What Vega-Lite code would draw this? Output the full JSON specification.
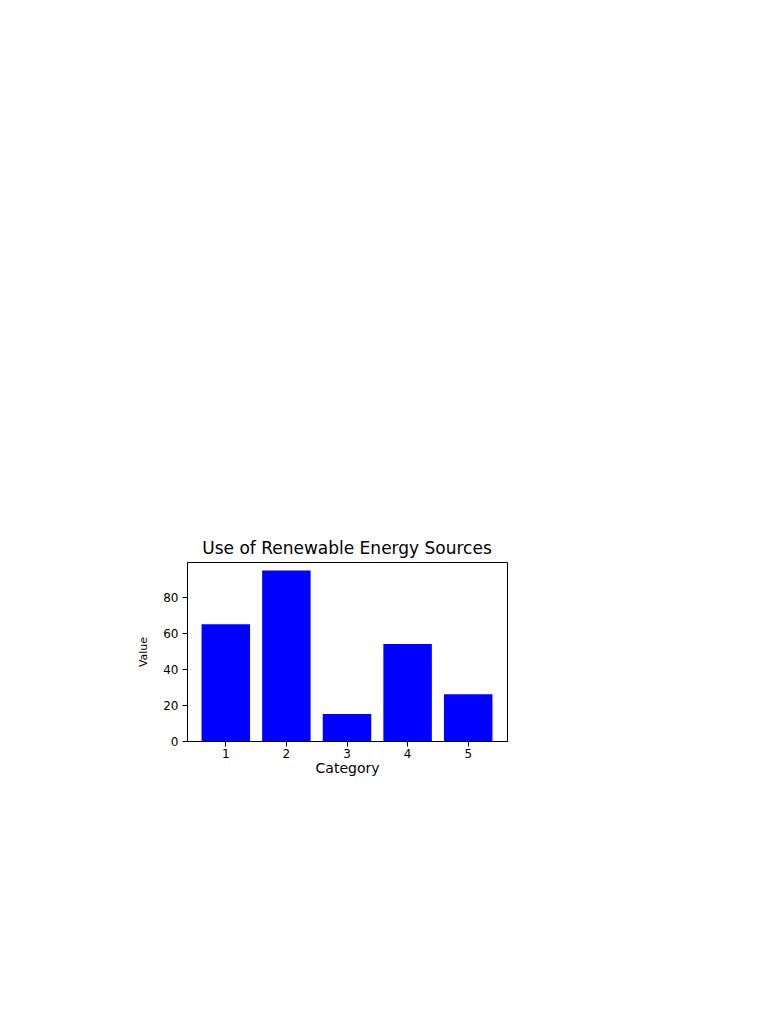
{
  "$schema": "https://vega.github.io/schema/vega-lite/v6.json",
  "autosize": "none",
  "padding": {"left": 187, "top": 562, "right": 261, "bottom": 283},
  "width": 320,
  "height": 179,
  "background": "white",
  "title": {
    "text": "Use of Renewable Energy Sources",
    "font": "DejaVu Sans",
    "fontSize": 17,
    "fontWeight": "normal",
    "color": "black",
    "offset": 4
  },
  "data": {
    "values": [
      {"Category": "1", "Value": 65},
      {"Category": "2", "Value": 95},
      {"Category": "3", "Value": 15},
      {"Category": "4", "Value": 54},
      {"Category": "5", "Value": 26}
    ]
  },
  "mark": {"type": "bar", "color": "#0000ff"},
  "encoding": {
    "x": {
      "field": "Category",
      "type": "ordinal",
      "title": "Category",
      "scale": {"paddingInner": 0.2, "paddingOuter": 0.24},
      "axis": {"labelAngle": 0, "titleFontSize": 14, "titlePadding": 2}
    },
    "y": {
      "field": "Value",
      "type": "quantitative",
      "title": "Value",
      "scale": {"domain": [0, 99.75], "nice": false},
      "axis": {"values": [0, 20, 40, 60, 80], "titleFontSize": 11, "titlePadding": 14, "labelPadding": 4}
    }
  },
  "config": {
    "view": {"stroke": "black", "strokeWidth": 1},
    "axis": {
      "grid": false,
      "domainColor": "black",
      "tickColor": "black",
      "tickSize": 5,
      "labelFont": "DejaVu Sans",
      "labelFontSize": 12,
      "labelColor": "black",
      "labelPadding": 2,
      "titleFont": "DejaVu Sans",
      "titleFontWeight": "normal",
      "titleColor": "black"
    }
  }
}
